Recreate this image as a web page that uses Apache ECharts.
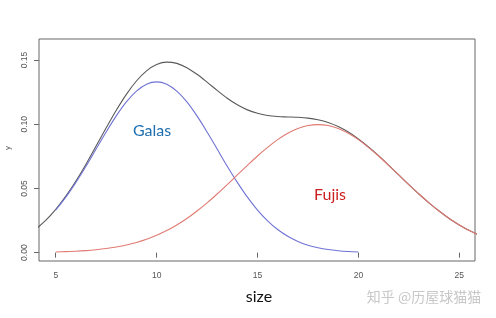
<!DOCTYPE html>
<html>
<head>
<meta charset="utf-8">
<script src="https://cdn.jsdelivr.net/npm/echarts@6/dist/echarts.min.js"></script>
<style>html,body{margin:0;padding:0;background:#fff}#c{width:496px;height:318px}</style>
</head>
<body>
<div id="c"></div>
<script>
// x positions (size)
const xTotal = [4,4.5,5,5.5,6,6.5,7,7.5,8,8.5,9,9.5,10,10.5,11,11.5,12,12.5,13,13.5,14,14.5,15,15.5,16,16.5,17,17.5,18,18.5,19,19.5,20,20.5,21,21.5,22,22.5,23,23.5,24,24.5,25,25.5,26];
const totalY = [0.0182,0.0251,0.0337,0.0440,0.0558,0.0689,0.0830,0.0972,0.1109,0.1233,0.1337,0.1416,0.1465,0.1484,0.1474,0.1440,0.1389,0.1328,0.1264,0.1203,0.1152,0.1112,0.1085,0.1068,0.1060,0.1057,0.1054,0.1048,0.1035,0.1014,0.0982,0.0939,0.0885,0.0823,0.0755,0.0681,0.0605,0.0530,0.0457,0.0388,0.0324,0.0266,0.0216,0.0172,0.0135];
const xGalas = [5,5.5,6,6.5,7,7.5,8,8.5,9,9.5,10,10.5,11,11.5,12,12.5,13,13.5,14,14.5,15,15.5,16,16.5,17,17.5,18,18.5,19,19.5,20];
const galasY = [0.0332,0.0432,0.0547,0.0673,0.0807,0.0940,0.1065,0.1174,0.1258,0.1312,0.1330,0.1312,0.1258,0.1174,0.1065,0.0940,0.0807,0.0673,0.0547,0.0432,0.0332,0.0248,0.0180,0.0127,0.0087,0.0058,0.0038,0.0024,0.0015,0.0009,0.0005];
const xFujis = [5,5.5,6,6.5,7,7.5,8,8.5,9,9.5,10,10.5,11,11.5,12,12.5,13,13.5,14,14.5,15,15.5,16,16.5,17,17.5,18,18.5,19,19.5,20,20.5,21,21.5,22,22.5,23,23.5,24,24.5,25,25.5,26];
const fujisY = [0.0005,0.0008,0.0011,0.0016,0.0023,0.0032,0.0044,0.0059,0.0079,0.0104,0.0135,0.0172,0.0216,0.0266,0.0324,0.0388,0.0457,0.0530,0.0605,0.0680,0.0753,0.0820,0.0880,0.0930,0.0967,0.0990,0.0997,0.0990,0.0967,0.0930,0.0880,0.0820,0.0753,0.0680,0.0605,0.0530,0.0457,0.0388,0.0324,0.0266,0.0216,0.0172,0.0135];
const xTicks = [5,10,15,20,25];
const yTicks = [0,0.05,0.10,0.15];

const zip = (xs, ys) => xs.map((x, i) => [x, ys[i]]);
const chart = echarts.init(document.getElementById('c'), null, {renderer: 'canvas'});
const tickLabel = {color: '#555', fontSize: 8.5, fontFamily: 'Liberation Sans'};
chart.setOption({
  animation: false,
  grid: {left: 39, right: 21, top: 39, bottom: 57, show: true, borderColor: '#666', borderWidth: 1, backgroundColor: 'transparent'},
  xAxis: {
    type: 'value', min: 4.17, max: 25.78,
    axisLine: {show: false},
    splitLine: {show: false},
    axisTick: {show: true, length: 5, lineStyle: {color: '#666'}, customValues: xTicks},
    axisLabel: Object.assign({margin: 10, customValues: xTicks, formatter: v => String(v)}, tickLabel)
  },
  yAxis: {
    type: 'value', min: -0.0065, max: 0.1664,
    axisLine: {show: false},
    splitLine: {show: false},
    axisTick: {show: true, length: 5, lineStyle: {color: '#666'}, customValues: yTicks},
    axisLabel: Object.assign({margin: 10, rotate: 90, customValues: yTicks, formatter: v => v.toFixed(2)}, tickLabel)
  },
  series: [
    {type: 'line', data: zip(xTotal, totalY), smooth: 0.3, showSymbol: false, clip: true, lineStyle: {color: '#5a5a5a', width: 1.1}},
    {type: 'line', data: zip(xGalas, galasY), smooth: 0.3, showSymbol: false, clip: true, lineStyle: {color: '#6f73d3', width: 1.1}},
    {type: 'line', data: zip(xFujis, fujisY), smooth: 0.3, showSymbol: false, clip: true, lineStyle: {color: '#e07a72', width: 1.1}}
  ],
  graphic: [
    {type: 'text', x: 8, y: 148, rotation: Math.PI / 2, style: {text: 'y', fill: '#555', font: '8px "Liberation Sans"', align: 'center', verticalAlign: 'middle'}},
    {type: 'text', x: 259, y: 297, style: {text: 'size', fill: '#111', font: '16px Lato', align: 'center', verticalAlign: 'middle'}},
    {type: 'text', x: 152, y: 131, style: {text: 'Galas', fill: '#1f6fae', font: '16px Lato', align: 'center', verticalAlign: 'middle'}},
    {type: 'text', x: 330, y: 195, style: {text: 'Fujis', fill: '#cc1f1f', font: '16px Lato', align: 'center', verticalAlign: 'middle'}},
    {type: 'text', x: 424, y: 297, style: {text: '知乎 @历屋球猫猫', fill: '#c8c8c8', font: '14px "Noto Sans CJK SC"', align: 'center', verticalAlign: 'middle'}}
  ]
});
</script>
</body>
</html>
